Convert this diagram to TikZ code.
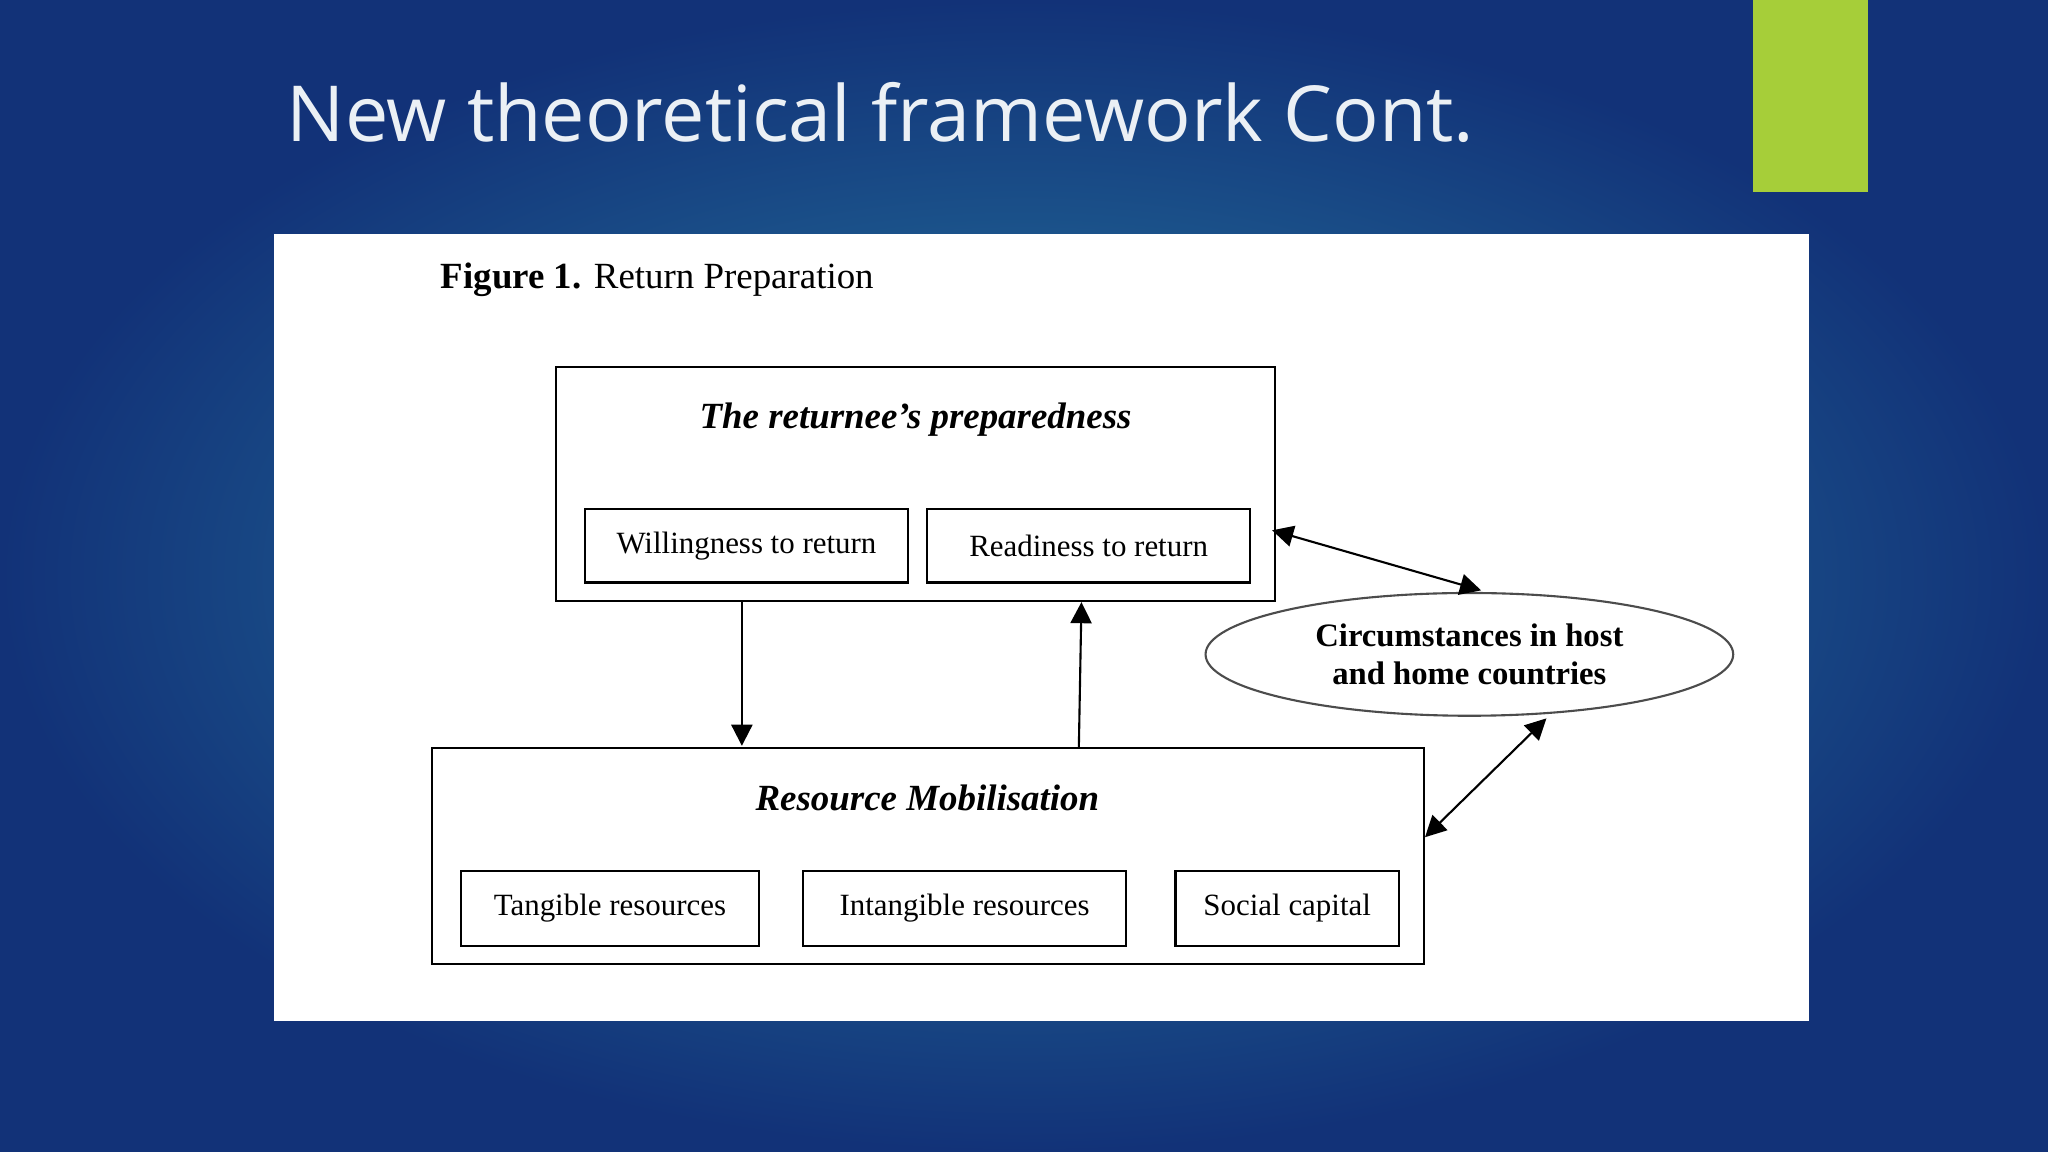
\documentclass[tikz,border=0pt]{standalone}
\usepackage{fontspec}
\setmainfont{Liberation Serif}
\newfontfamily\titlefont{Open Sans}
\usetikzlibrary{arrows.meta,shapes.geometric}
\definecolor{bginner}{RGB}{40,130,165}
\definecolor{bgouter}{RGB}{18,50,120}
\definecolor{lime}{RGB}{166,206,57}
\definecolor{titlecol}{RGB}{235,240,245}
\begin{document}
\begin{tikzpicture}[x=0.01306cm,y=-0.01306cm,
  bx/.style={draw=black,line width=0.6pt,inner sep=0pt,font=\fontsize{8.8}{10}\selectfont},
  arr/.style={line width=0.6pt,-{Triangle[length=6pt,width=6pt]}},
  darr/.style={line width=0.6pt,{Triangle[length=6pt,width=6pt]}-{Triangle[length=6pt,width=6pt]}}]
\useasboundingbox (0,0) rectangle (1568,882);
\fill[bgouter] (0,0) rectangle (1568,882);
\shade[inner color=bginner,outer color=bgouter] (0,0) rectangle (1568,882);
\fill[lime] (1342,0) rectangle (1430,147);
\node[anchor=west,text=titlecol,font=\titlefont\fontsize{22}{26}\selectfont] (title) at (210,86) {New theoretical framework Cont.};
\fill[white] (210,179) rectangle (1385,782);
\node[anchor=west,font=\fontsize{10.5}{12}\selectfont] (cap) at (328,214) {\textbf{Figure 1.} Return Preparation};
\node[bx,minimum width={550*0.01306cm},minimum height={179*0.01306cm}] (top) at (701,370.5) {};
\node[font=\bfseries\itshape\fontsize{10.5}{12}\selectfont] (toptitle) at (701,321) {The returnee’s preparedness};
\node[bx,minimum width={247*0.01306cm},minimum height={56*0.01306cm}] (will) at (571.5,418) {Willingness to return};
\node[bx,minimum width={247*0.01306cm},minimum height={56*0.01306cm}] (ready) at (833.5,418) {Readiness to return};
\node[bx,minimum width={759*0.01306cm},minimum height={165*0.01306cm}] (bot) at (710.5,655.5) {};
\node[font=\bfseries\itshape\fontsize{10.5}{12}\selectfont] (bottitle) at (710,611) {Resource Mobilisation};
\node[bx,minimum width={228*0.01306cm},minimum height={57*0.01306cm}] (tang) at (467,695.5) {Tangible resources};
\node[bx,minimum width={247*0.01306cm},minimum height={57*0.01306cm}] (intang) at (738.5,695.5) {Intangible resources};
\node[bx,minimum width={171*0.01306cm},minimum height={57*0.01306cm}] (soc) at (985.5,695.5) {Social capital};
\node[ellipse,draw=black!70,line width=0.6pt,minimum width={404*0.01306cm},minimum height={94*0.01306cm},align=center,font=\bfseries\fontsize{9.3}{11}\selectfont,inner sep=0pt] (circ) at (1125,501) {Circumstances in host\\and home countries};
\coordinate (a1) at (568,460); \coordinate (a2) at (568,571);
\draw[arr] (a1) -- (a2);
\coordinate (b1) at (826,572); \coordinate (b2) at (828,461);
\draw[arr] (b1) -- (b2);
\coordinate (c1) at (974,406); \coordinate (c2) at (1134,452);
\draw[darr] (c1) -- (c2);
\coordinate (d1) at (1184,550); \coordinate (d2) at (1091,641);
\draw[darr] (d1) -- (d2);
\end{tikzpicture}
\end{document}
